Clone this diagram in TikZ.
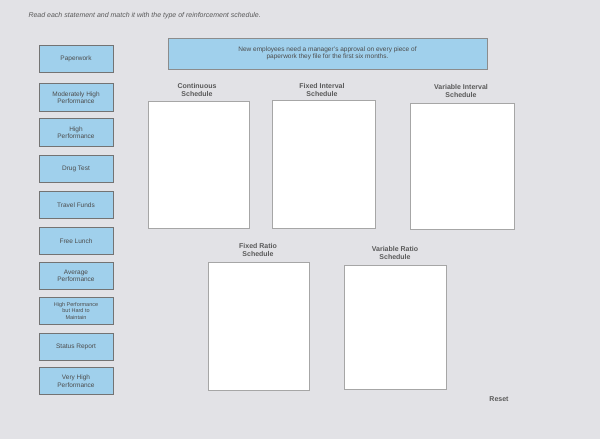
\documentclass[tikz,border=0pt]{standalone}
\usepackage{fontspec}
\setmainfont{Liberation Sans}
\definecolor{btnblue}{RGB}{160,208,236}
\definecolor{bg}{RGB}{226,226,230}
\begin{document}
\begin{tikzpicture}[x=1pt,y=-1pt,
  btn/.style={draw=black!55,fill=btnblue,line width=0.8pt,minimum width=74pt,align=center,font=\fontsize{6.5}{7.5}\selectfont,text=black!70,inner sep=1pt},
  drop/.style={draw=black!35,fill=white,line width=0.6pt},
  hdr/.style={align=center,font=\fontsize{7}{8}\selectfont\bfseries,text=black!65}]
\fill[bg] (0,0) rectangle (600,439);
\useasboundingbox (0,0) rectangle (600,439);
\node[anchor=west,font=\fontsize{7}{8}\selectfont\itshape,text=black!65] (title) at (25,16) {Read each statement and match it with the type of reinforcement schedule.};
\node[btn,minimum height=27pt] (b1) at (76,58.5) {Paperwork};
\node[btn,minimum height=28pt] (b2) at (76,97.5) {Moderately High\\Performance};
\node[btn,minimum height=28pt] (b3) at (76,132.5) {High\\Performance};
\node[btn,minimum height=27pt] (b4) at (76,169) {Drug Test};
\node[btn,minimum height=27pt] (b5) at (76,205) {Travel Funds};
\node[btn,minimum height=27pt] (b6) at (76,241) {Free Lunch};
\node[btn,minimum height=27pt] (b7) at (76,276) {Average\\Performance};
\node[btn,minimum height=27pt,font=\fontsize{5.5}{6.5}\selectfont] (b8) at (76,311) {High Performance\\but Hard to\\Maintain};
\node[btn,minimum height=27pt] (b9) at (76,347) {Status Report};
\node[btn,minimum height=27pt] (b10) at (76,381) {Very High\\Performance};
\node[draw=black!45,fill=btnblue,minimum width=319pt,minimum height=31pt,align=center,font=\fontsize{6.5}{7.5}\selectfont,text=black!70] (stmt) at (327.5,53.5) {New employees need a manager's approval on every piece of\\paperwork they file for the first six months.};
\node[hdr] (h1) at (197,90) {Continuous\\Schedule};
\node[hdr] (h2) at (322,90) {Fixed Interval\\Schedule};
\node[hdr] (h3) at (461,91) {Variable Interval\\Schedule};
\node[hdr] (h4) at (258,250) {Fixed Ratio\\Schedule};
\node[hdr] (h5) at (395,253) {Variable Ratio\\Schedule};
\draw[drop] (148,101) rectangle (249,228);
\draw[drop] (272,100) rectangle (375,228);
\draw[drop] (410,103) rectangle (514,229);
\draw[drop] (208,262) rectangle (309,390);
\draw[drop] (344,265) rectangle (446,389);
\node[font=\fontsize{7}{8}\selectfont\bfseries,text=black!65] (reset) at (499,399) {Reset};
\end{tikzpicture}
\end{document}
